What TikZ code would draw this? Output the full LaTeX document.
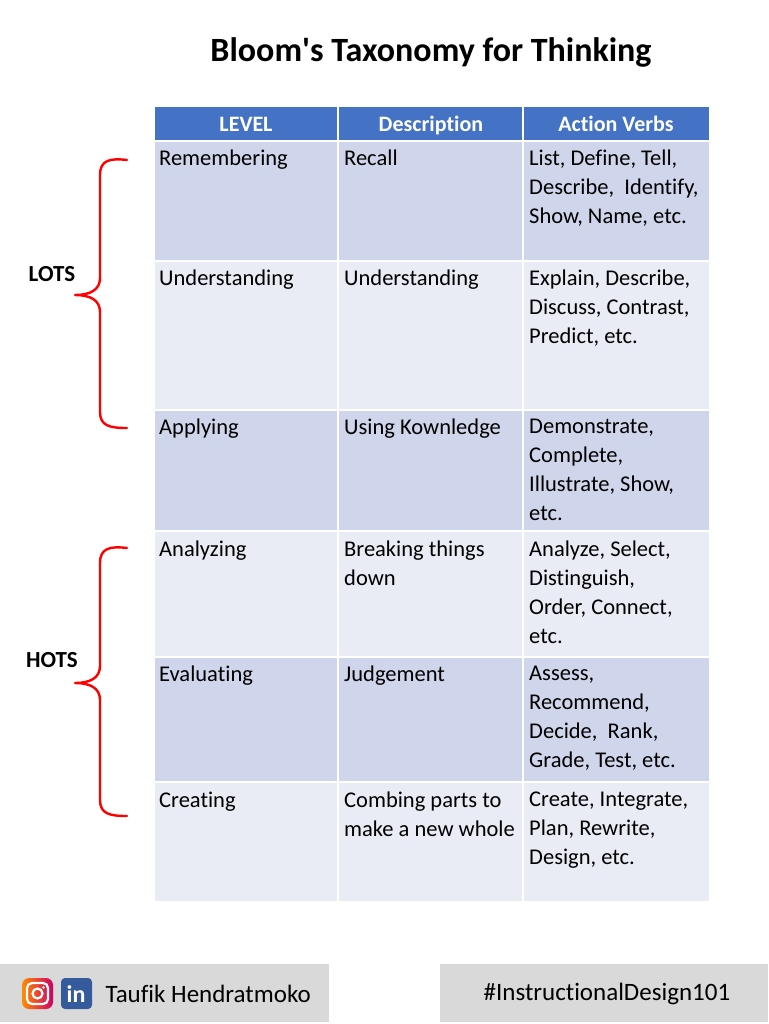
\documentclass[tikz,border=0pt]{standalone}
\usepackage{fontspec}
\setmainfont{Carlito}[Ligatures=NoCommon]
\begin{document}
\begin{tikzpicture}[x=1pt,y=-1pt,
  cell/.style={anchor=north west,align=left,inner sep=0pt,font=\fontsize{22.5}{29}\selectfont},
  hdr/.style={anchor=base,font=\fontsize{22}{24}\selectfont\bfseries,text=white},
  brace/.style={draw=red,line width=2.4pt,line cap=round,line join=round}]
\definecolor{hblue}{HTML}{4472C4}
\definecolor{rowA}{HTML}{CFD5EA}
\definecolor{rowB}{HTML}{E9EBF5}
\definecolor{foot}{HTML}{D9D9D9}
\useasboundingbox (0,0) rectangle (768,1024);
\fill[white] (0,0) rectangle (768,1024);
\node[font=\fontsize{34}{38}\selectfont\bfseries] (title) at (431,52) {Bloom\textquotesingle s Taxonomy for Thinking};
% header
\fill[hblue] (155,107) rectangle (709,141);
\node[hdr] (h1) at (246,132) {LEVEL};
\node[hdr] (h2) at (431,132) {Description};
\node[hdr] (h3) at (616,132) {Action Verbs};
% rows
\fill[rowA] (155,141) rectangle (709,261);
\fill[rowB] (155,261) rectangle (709,410);
\fill[rowA] (155,410) rectangle (709,531);
\fill[rowB] (155,531) rectangle (709,657);
\fill[rowA] (155,657) rectangle (709,782);
\fill[rowB] (155,782) rectangle (709,901);
\foreach \y in {141,261,410,531,657,782} \draw[white,line width=1.5pt] (155,\y) -- (709,\y);
\foreach \x in {338,523} \draw[white,line width=1.5pt] (\x,107) -- (\x,901);
% cells
\node[cell] (r1a) at (159,150) {Remembering};
\node[cell] (r1b) at (344,150) {Recall};
\node[cell] (r1c) at (529,150) {List, Define, Tell,\\Describe,\ \ Identify,\\Show, Name, etc.};
\node[cell] (r2a) at (159,270) {Understanding};
\node[cell] (r2b) at (344,270) {Understanding};
\node[cell] (r2c) at (529,270) {Explain, Describe,\\Discuss, Contrast,\\Predict, etc.};
\node[cell] (r3a) at (159,419) {Applying};
\node[cell] (r3b) at (344,419) {Using Kownledge};
\node[cell] (r3c) at (529,419) {Demonstrate,\\Complete,\\Illustrate, Show,\\etc.};
\node[cell] (r4a) at (159,541) {Analyzing};
\node[cell] (r4b) at (344,541) {Breaking things\\down};
\node[cell] (r4c) at (529,541) {Analyze, Select,\\Distinguish,\\Order, Connect,\\etc.};
\node[cell] (r5a) at (159,666) {Evaluating};
\node[cell] (r5b) at (344,666) {Judgement};
\node[cell] (r5c) at (529,666) {Assess,\\Recommend,\\Decide,\ \ Rank,\\Grade, Test, etc.};
\node[cell] (r6a) at (159,792) {Creating};
\node[cell] (r6b) at (344,792) {Combing parts to\\make a new whole};
\node[cell] (r6c) at (529,792) {Create, Integrate,\\Plan, Rewrite,\\Design, etc.};
% braces
\draw[brace] (127,160) .. controls (110,158) and (100,160) .. (100,175) -- (100,278) .. controls (100,290) and (90,295) .. (75,295)
  .. controls (90,295) and (100,300) .. (100,312) -- (100,412) .. controls (100,426) and (110,428) .. (127,428);
\node[font=\fontsize{23}{26}\selectfont\bfseries] (lots) at (52,274) {LOTS};
\draw[brace] (127,548) .. controls (110,546) and (100,548) .. (100,563) -- (100,666) .. controls (100,678) and (90,683) .. (75,683)
  .. controls (90,683) and (100,688) .. (100,700) -- (100,800) .. controls (100,814) and (110,816) .. (127,816);
\node[font=\fontsize{23}{26}\selectfont\bfseries] (hots) at (52,660) {HOTS};
% footer
\fill[foot] (0,964) rectangle (329,1022);
\fill[foot] (440,964) rectangle (768,1022);
\shade[left color=orange!90!yellow,right color=purple!80!magenta,rounded corners=7pt] (22,978) rectangle (53,1009);
\draw[white,line width=2.2pt,rounded corners=5pt] (27,983) rectangle (48,1004);
\draw[white,line width=2.2pt] (37.5,993.5) circle (5pt);
\fill[white] (43.5,987.5) circle (1.3pt);
\fill[hblue!80!black,rounded corners=4pt] (61,978) rectangle (92,1009);
\node[text=white,font=\fontsize{24}{24}\selectfont\bfseries] (li) at (76,994) {in};
\node[anchor=west,font=\fontsize{25}{28}\selectfont] (name) at (102,994) {Taufik Hendratmoko};
\node[font=\fontsize{25}{28}\selectfont] (tag) at (607,994) {\#InstructionalDesign101};
\end{tikzpicture}
\end{document}
